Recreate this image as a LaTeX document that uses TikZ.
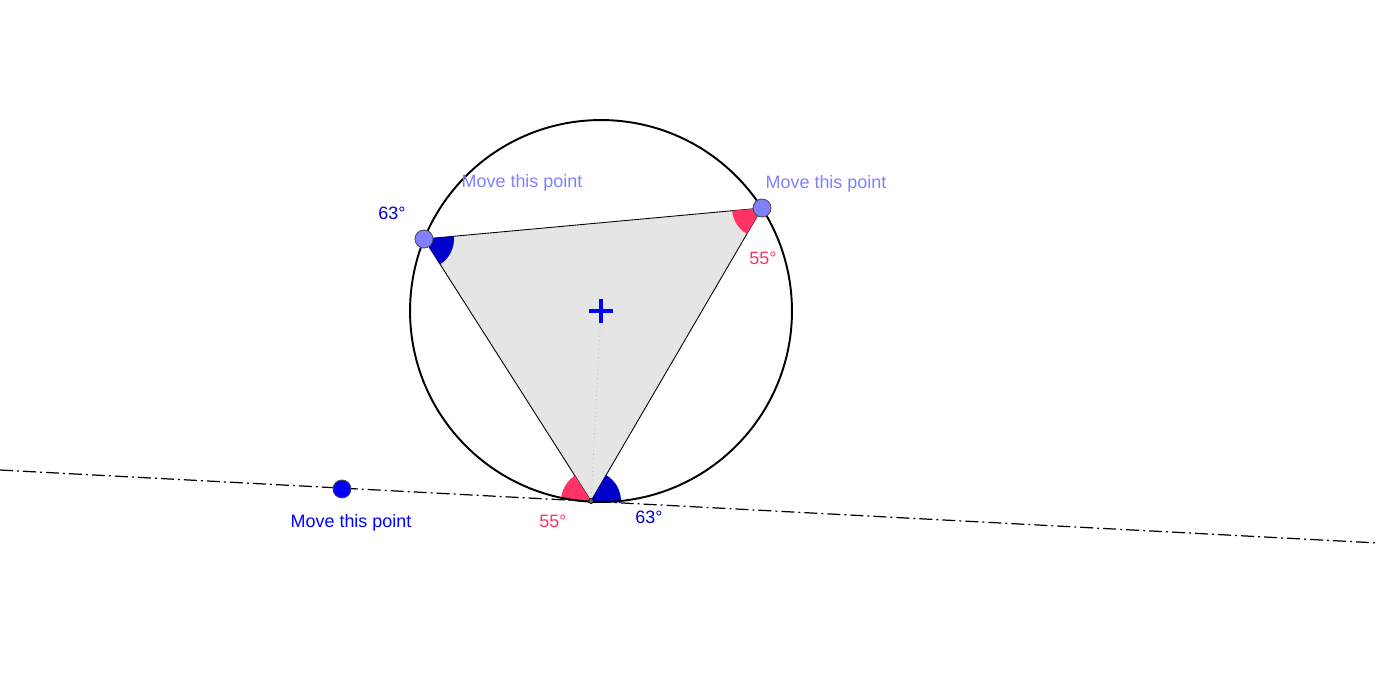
\documentclass[tikz,border=0pt]{standalone}
\usepackage{fontspec}
\setmainfont{Liberation Sans}
\usepackage{tikz}
\usetikzlibrary{angles}
\definecolor{pointblue}{RGB}{128,128,255}
\definecolor{deepblue}{RGB}{0,0,255}
\definecolor{angblue}{RGB}{0,0,204}
\definecolor{angred}{RGB}{255,51,102}
\definecolor{trigrey}{RGB}{229,229,229}

\begin{document}
\begin{tikzpicture}[x=0.02cm, y=-0.02cm, font=\fontsize{10.2}{12}\selectfont,
	main/.style = {draw=black!70, circle, fill=pointblue, inner sep=0, minimum size=0.36cm, line width=0.5pt},
	lbl/.style = {inner sep=0},
	wedge/.style = {draw=none, angle radius=0.6cm}]
	\useasboundingbox (0,0) rectangle (1382,687);
	\coordinate (A) at (424,239);
	\coordinate (B) at (762,208);
	\coordinate (C) at (591,501);
	\coordinate (O) at (601,311);
	\coordinate (D) at (342,489);
	\coordinate (Lw) at (0,470);
	\coordinate (Le) at (1378,543);
	\filldraw[fill=trigrey, draw=black, line width=0.5pt] (A) -- (B) -- (C) -- cycle;
	\pic[wedge, fill=angblue] {angle = C--A--B};
	\pic[wedge, fill=angred] {angle = A--B--C};
	\pic[wedge, fill=angred] {angle = A--C--D};
	\pic[wedge, fill=angblue] {angle = Le--C--B};
	\draw[line width=1.1pt] (O) circle (3.82cm);
	\draw[line width=0.7pt, dash pattern=on 7.4pt off 2.3pt on 1.1pt off 2.3pt] (Lw) -- (Le);
	\draw[gray!60, dotted, line width=0.4pt] (O) -- (C);
	\draw[deepblue, line width=2.3pt] (589,311) -- (613,311) (601,299) -- (601,323);
	\node[main] (P1) at (A){};
	\node[main] (P2) at (B){};
	\node[main, fill=deepblue] (P3) at (D){};
	\node[draw=black, circle, fill=black!60, inner sep=0, minimum size=0.1cm] (P4) at (C){};
	\node[lbl, text=pointblue] (m1) at (522,183) {Move this point};
	\node[lbl, text=pointblue] (m2) at (826,184) {Move this point};
	\node[lbl, text=deepblue] (m3) at (351,523) {Move this point};
	\node[lbl, text=angblue] (a1) at (392,213) {63°};
	\node[lbl, text=angred] (a2) at (763,258) {55°};
	\node[lbl, text=angred] (a3) at (553,521) {55°};
	\node[lbl, text=angblue] (a4) at (649,517) {63°};
\end{tikzpicture}
\end{document}
